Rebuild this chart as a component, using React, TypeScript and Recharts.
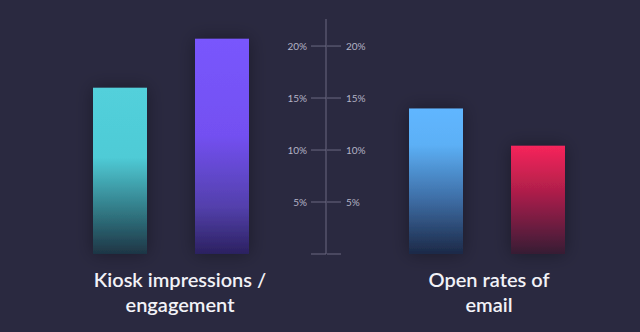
import { Bar, BarChart, Cell, XAxis, YAxis } from "recharts";

// categories and values (percent)
const categories = ["Kiosk impressions / engagement", "Open rates of email"];
const categoryLines = [
    ["Kiosk impressions /", "engagement"],
    ["Open rates of", "email"],
];
const firstBarValues = [16, 14];
const secondBarValues = [20.7, 10.4];
const yTicks = [0, 5, 10, 15, 20];
const yDomain = [0, 22.6];

const firstBarFills = ["url(#gradCyan)", "url(#gradBlue)"];
const secondBarFills = ["url(#gradPurple)", "url(#gradRed)"];

const data = categories.map((name, i) => ({
    name,
    first: firstBarValues[i],
    second: secondBarValues[i],
}));

const BG = "#2a2940";
const AXIS = "#6a6980";
const FONT = "Lato, 'Noto Sans', sans-serif";

// label de categoría en dos líneas
const CategoryTick = ({ x, y, index }: any) => {
    const lines = categoryLines[index] || [];
    const cx = x + (index === 0 ? 9 : 2);
    return (
        <text x={cx} y={y} textAnchor="middle" fill="#f2f2f7" fontSize={20} fontWeight={600} fontFamily={FONT}>
            {lines.map((line, i) => (
                <tspan key={i} x={cx} dy={i === 0 ? 33 : 25}>
                    {line}
                </tspan>
            ))}
        </text>
    );
};

const pct = (v: number) => (v === 0 ? "" : `${v}%`);

export default function App() {
    return (
        <div
            style={{
                position: "fixed",
                left: 0,
                top: 0,
                width: 640,
                height: 332,
                background: BG,
                overflow: "hidden",
            }}
        >
            {/* Barras */}
            <div style={{ position: "absolute", left: 0, top: 0 }}>
                <BarChart
                    width={645}
                    height={332}
                    data={data}
                    margin={{ top: 19, right: 0, left: 13, bottom: 0 }}
                    barGap={48}
                >
                    <defs>
                        <linearGradient id="gradCyan" x1="0" y1="0" x2="0" y2="1">
                            <stop offset="0" stopColor="#52d0db" />
                            <stop offset="0.42" stopColor="#4fcbd6" />
                            <stop offset="0.78" stopColor="#2e6f7b" />
                            <stop offset="1" stopColor="#1e3545" />
                        </linearGradient>
                        <linearGradient id="gradPurple" x1="0" y1="0" x2="0" y2="1">
                            <stop offset="0" stopColor="#7956fd" />
                            <stop offset="0.45" stopColor="#7350f1" />
                            <stop offset="0.78" stopColor="#5340ac" />
                            <stop offset="1" stopColor="#2b2160" />
                        </linearGradient>
                        <linearGradient id="gradBlue" x1="0" y1="0" x2="0" y2="1">
                            <stop offset="0" stopColor="#60b6ff" />
                            <stop offset="0.25" stopColor="#5cb0f6" />
                            <stop offset="0.62" stopColor="#3e6ea6" />
                            <stop offset="1" stopColor="#1c2947" />
                        </linearGradient>
                        <linearGradient id="gradRed" x1="0" y1="0" x2="0" y2="1">
                            <stop offset="0" stopColor="#f6255b" />
                            <stop offset="0.4" stopColor="#b31f4b" />
                            <stop offset="0.75" stopColor="#6b1b40" />
                            <stop offset="1" stopColor="#361a33" />
                        </linearGradient>
                        <filter id="barShadow" x="-60%" y="-20%" width="220%" height="140%">
                            <feDropShadow dx="0" dy="0" stdDeviation="9" floodColor="#000" floodOpacity="0.35" />
                        </filter>
                    </defs>

                    <XAxis
                        dataKey="name"
                        axisLine={false}
                        tickLine={false}
                        tickSize={0}
                        tickMargin={0}
                        height={78}
                        interval={0}
                        tick={<CategoryTick />}
                    />
                    <YAxis hide domain={yDomain} ticks={yTicks} />

                    <Bar dataKey="first" barSize={54} isAnimationActive={false}>
                        {data.map((_, i) => (
                            <Cell key={i} fill={firstBarFills[i]} filter="url(#barShadow)" />
                        ))}
                    </Bar>
                    <Bar dataKey="second" barSize={54} isAnimationActive={false}>
                        {data.map((_, i) => (
                            <Cell key={i} fill={secondBarFills[i]} filter="url(#barShadow)" />
                        ))}
                    </Bar>
                </BarChart>
            </div>

            {/* Eje central con etiquetas a ambos lados */}
            <div style={{ position: "absolute", left: 276, top: 0 }}>
                <BarChart
                    width={101}
                    height={332}
                    data={data}
                    margin={{ top: 19, right: 0, left: 0, bottom: 78 }}
                >
                    <YAxis
                        yAxisId="left"
                        width={50}
                        domain={yDomain}
                        ticks={yTicks}
                        tickFormatter={pct}
                        stroke={AXIS}
                        tickSize={15}
                        tickMargin={4}
                        interval={0}
                        tick={{ fill: "#b4b3c6", fontSize: 10, fontFamily: FONT }}
                    />
                    <YAxis
                        yAxisId="right"
                        orientation="right"
                        width={50}
                        domain={yDomain}
                        ticks={yTicks}
                        tickFormatter={pct}
                        stroke={AXIS}
                        axisLine={false}
                        tickSize={14}
                        tickMargin={5}
                        interval={0}
                        tick={{ fill: "#b4b3c6", fontSize: 10, fontFamily: FONT }}
                    />
                    <Bar dataKey="first" yAxisId="left" fill="none" isAnimationActive={false} />
                    <Bar dataKey="second" yAxisId="right" fill="none" isAnimationActive={false} />
                </BarChart>
            </div>
        </div>
    );
}
